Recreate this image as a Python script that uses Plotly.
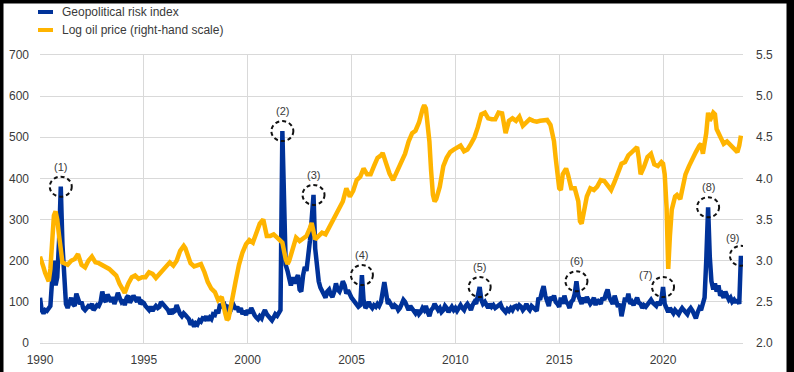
import plotly.graph_objects as go

# ---------------- data ----------------
gpr_t = [
 1990.00,1990.08,1990.17,1990.25,1990.33,1990.42,1990.50,1990.58,1990.67,1990.75,1990.83,1990.92,
 1991.00,1991.08,1991.17,1991.25,1991.33,1991.42,1991.50,1991.58,1991.67,1991.75,1991.83,1991.92,
 1992.00,1992.08,1992.17,1992.33,1992.42,1992.50,1992.58,1992.67,1992.75,1992.83,1992.92,
 1993.00,1993.08,1993.17,1993.25,1993.33,1993.42,1993.50,1993.58,1993.67,1993.75,1993.83,1993.92,
 1994.00,1994.08,1994.17,1994.25,1994.33,1994.42,1994.50,1994.58,1994.67,1994.75,1994.83,1994.92,
 1995.00,1995.08,1995.17,1995.25,1995.33,1995.42,1995.50,1995.58,1995.67,1995.75,1995.83,1995.92,
 1996.00,1996.08,1996.17,1996.25,1996.33,1996.42,1996.50,1996.58,1996.67,1996.75,1996.83,1996.92,
 1997.00,1997.08,1997.17,1997.25,1997.33,1997.42,1997.50,1997.58,1997.67,1997.75,1997.83,1997.92,
 1998.00,1998.08,1998.17,1998.25,1998.33,1998.42,1998.50,1998.58,1998.67,1998.75,1998.83,1998.92,
 1999.00,1999.08,1999.17,1999.25,1999.33,1999.42,1999.50,1999.58,1999.67,1999.75,1999.83,1999.92,
 2000.00,2000.08,2000.17,2000.25,2000.33,2000.42,2000.50,2000.58,2000.67,2000.75,2000.83,2000.92,
 2001.00,2001.08,2001.17,2001.25,2001.33,2001.42,2001.50,2001.58,2001.67,2001.75,2001.83,2001.92,
 2002.00,2002.08,2002.17,2002.25,2002.33,2002.42,2002.50,2002.58,2002.67,2002.75,2002.83,2002.92,
 2003.00,2003.08,2003.17,2003.25,2003.33,2003.42,2003.50,2003.58,2003.67,2003.75,2003.83,2003.92,
 2004.00,2004.08,2004.17,2004.25,2004.33,2004.42,2004.50,2004.58,2004.67,2004.75,2004.83,2004.92,
 2005.00,2005.08,2005.17,2005.25,2005.33,2005.42,2005.50,2005.58,2005.67,2005.75,2005.83,2005.92,
 2006.00,2006.08,2006.17,2006.25,2006.33,2006.42,2006.50,2006.58,2006.67,2006.75,2006.83,2006.92,
 2007.00,2007.08,2007.17,2007.25,2007.33,2007.42,2007.50,2007.58,2007.67,2007.75,2007.83,2007.92,
 2008.00,2008.08,2008.17,2008.25,2008.33,2008.42,2008.50,2008.58,2008.67,2008.75,2008.83,2008.92,
 2009.00,2009.08,2009.17,2009.25,2009.33,2009.42,2009.50,2009.58,2009.67,2009.75,2009.83,2009.92,
 2010.00,2010.08,2010.17,2010.25,2010.33,2010.42,2010.50,2010.58,2010.67,2010.75,2010.83,2010.92,
 2011.00,2011.08,2011.17,2011.25,2011.33,2011.42,2011.50,2011.58,2011.67,2011.75,2011.83,2011.92,
 2012.00,2012.08,2012.17,2012.25,2012.33,2012.42,2012.50,2012.58,2012.67,2012.75,2012.83,2012.92,
 2013.00,2013.08,2013.17,2013.25,2013.33,2013.42,2013.50,2013.58,2013.67,2013.75,2013.83,2013.92,
 2014.00,2014.08,2014.17,2014.25,2014.33,2014.42,2014.50,2014.58,2014.67,2014.75,2014.83,2014.92,
 2015.00,2015.08,2015.17,2015.25,2015.33,2015.42,2015.50,2015.58,2015.67,2015.75,2015.83,2015.92,
 2016.00,2016.08,2016.17,2016.25,2016.33,2016.42,2016.50,2016.58,2016.67,2016.75,2016.83,2016.92,
 2017.00,2017.08,2017.17,2017.25,2017.33,2017.42,2017.50,2017.58,2017.67,2017.75,2017.83,2017.92,
 2018.00,2018.08,2018.17,2018.25,2018.33,2018.42,2018.50,2018.58,2018.67,2018.75,2018.83,2018.92,
 2019.00,2019.08,2019.17,2019.25,2019.33,2019.42,2019.50,2019.58,2019.67,2019.75,2019.83,2019.92,
 2020.00,2020.08,2020.17,2020.25,2020.33,2020.42,2020.50,2020.58,2020.67,2020.75,2020.83,2020.92,
 2021.00,2021.08,2021.17,2021.25,2021.33,2021.42,2021.50,2021.58,2021.67,2021.75,2021.83,2021.92,
 2022.00,2022.08,2022.17,2022.25,2022.33,2022.42,2022.50,2022.58,2022.67,2022.75,2022.83,2022.92,
 2023.00,2023.08,2023.17,2023.25,2023.33,2023.42,2023.50,2023.58,2023.67,2023.75,
]
gpr_v = [
 110,80,72,80,78,85,90,150,200,140,160,250,
 380,240,150,95,85,100,110,95,90,120,105,95,
 100,85,80,90,88,95,80,85,92,90,100,
 125,105,100,118,110,100,112,95,108,122,110,100,
 105,92,110,115,98,105,115,108,100,112,95,100,
 97,90,85,80,88,78,85,90,85,88,100,95,
 90,85,80,70,82,75,78,92,75,70,65,72,
 68,62,58,45,50,40,48,45,55,52,60,58,
 65,55,62,58,70,68,80,72,95,85,100,88,
 92,70,78,100,90,82,88,75,85,70,78,68,
 80,72,85,75,68,62,58,65,60,72,80,70,
 65,58,55,62,70,66,75,80,515,280,190,175,
 150,140,160,145,155,165,130,125,165,185,175,210,
 250,300,360,230,175,150,135,125,115,110,125,130,
 118,112,125,145,130,125,135,150,140,120,128,115,
 110,105,100,95,88,92,165,105,85,90,100,90,
 85,92,88,95,90,100,120,148,120,95,100,90,
 85,92,88,80,85,95,105,100,88,80,90,85,
 78,72,80,70,75,85,80,90,75,65,80,85,
 95,88,80,85,75,80,90,85,75,82,88,80,
 85,78,88,92,85,80,90,95,88,80,92,100,
 95,110,136,105,95,100,92,85,95,88,92,85,
 88,92,95,85,80,75,82,78,85,80,88,90,
 85,92,88,80,85,95,85,80,90,85,82,78,
 110,105,125,138,115,100,90,112,105,115,100,95,
 88,110,95,115,100,95,85,100,105,120,150,115,
 100,95,110,98,112,105,95,100,110,92,105,100,
 95,110,105,120,130,110,100,95,115,100,88,95,
 65,85,110,100,120,95,100,92,105,110,98,95,
 85,92,88,95,100,105,98,95,90,100,92,105,
 136,95,80,75,85,78,72,80,75,70,78,85,
 80,75,70,80,85,78,70,60,75,85,80,95,
 110,200,330,210,150,130,145,125,140,115,120,110,
 125,115,105,110,100,105,98,105,95,212,
]

oil_t = [
 1990.00,1990.08,1990.17,1990.25,1990.33,1990.42,1990.50,1990.58,1990.67,1990.75,1990.83,1990.92,
 1991.00,1991.08,1991.17,1991.33,1991.50,1991.67,1991.83,1992.00,1992.17,1992.33,1992.50,1992.67,
 1992.83,1993.00,1993.17,1993.33,1993.50,1993.67,1993.83,1994.00,1994.08,1994.25,1994.42,1994.58,
 1994.75,1994.92,1995.08,1995.25,1995.42,1995.58,1995.75,1995.92,1996.08,1996.25,1996.42,1996.58,
 1996.75,1996.92,1997.00,1997.08,1997.25,1997.42,1997.58,1997.75,1997.92,1998.08,1998.25,1998.42,
 1998.58,1998.75,1998.92,1999.00,1999.08,1999.25,1999.42,1999.58,1999.75,1999.92,2000.08,2000.25,
 2000.42,2000.58,2000.75,2000.83,2000.92,2001.08,2001.25,2001.42,2001.58,2001.67,2001.83,2001.92,
 2002.00,2002.17,2002.33,2002.50,2002.67,2002.83,2003.00,2003.08,2003.25,2003.42,2003.58,2003.75,
 2003.92,2004.08,2004.25,2004.42,2004.58,2004.75,2004.92,2005.08,2005.25,2005.42,2005.58,2005.75,
 2005.92,2006.08,2006.25,2006.42,2006.50,2006.67,2006.83,2007.00,2007.08,2007.25,2007.42,2007.58,
 2007.75,2007.92,2008.08,2008.25,2008.42,2008.50,2008.58,2008.75,2008.83,2008.92,2009.00,2009.08,
 2009.25,2009.42,2009.58,2009.75,2009.92,2010.08,2010.25,2010.42,2010.58,2010.75,2010.92,2011.08,
 2011.25,2011.42,2011.58,2011.75,2011.92,2012.08,2012.25,2012.42,2012.58,2012.75,2012.92,2013.08,
 2013.25,2013.42,2013.58,2013.75,2013.92,2014.08,2014.25,2014.42,2014.58,2014.75,2014.83,2014.92,
 2015.00,2015.08,2015.17,2015.33,2015.42,2015.58,2015.75,2015.92,2016.00,2016.08,2016.17,2016.33,
 2016.50,2016.67,2016.83,2017.00,2017.17,2017.33,2017.50,2017.67,2017.83,2018.00,2018.17,2018.33,
 2018.50,2018.75,2018.83,2018.92,2019.08,2019.25,2019.42,2019.58,2019.75,2019.92,2020.00,2020.08,
 2020.17,2020.25,2020.33,2020.42,2020.58,2020.67,2020.83,2020.92,2021.08,2021.25,2021.42,2021.58,
 2021.75,2021.83,2021.92,2022.00,2022.08,2022.17,2022.25,2022.42,2022.50,2022.58,2022.75,2022.92,
 2023.08,2023.25,2023.42,2023.58,2023.67,2023.75,
]
oil_v = [
 3.05,3.00,2.92,2.85,2.80,2.75,2.90,3.25,3.55,3.60,3.50,3.30,
 3.10,2.98,2.97,2.95,3.00,3.02,3.08,2.95,2.92,3.00,3.05,2.98,
 2.97,2.95,2.92,2.90,2.86,2.82,2.72,2.63,2.61,2.72,2.80,2.82,
 2.78,2.80,2.80,2.86,2.84,2.79,2.84,2.88,2.92,2.98,2.94,3.00,
 3.12,3.18,3.15,3.08,2.97,2.93,2.94,2.96,2.86,2.74,2.66,2.62,
 2.52,2.56,2.36,2.28,2.30,2.55,2.75,2.95,3.10,3.20,3.25,3.22,
 3.35,3.45,3.50,3.40,3.30,3.30,3.32,3.28,3.25,3.22,3.02,2.96,
 3.00,3.17,3.28,3.24,3.28,3.30,3.40,3.46,3.26,3.30,3.34,3.32,
 3.40,3.47,3.55,3.62,3.72,3.88,3.78,3.85,3.98,4.02,4.12,4.05,
 4.05,4.15,4.25,4.28,4.31,4.18,4.06,3.98,4.02,4.12,4.20,4.30,
 4.45,4.55,4.58,4.68,4.84,4.89,4.85,4.45,4.10,3.80,3.72,3.75,
 3.90,4.15,4.25,4.32,4.35,4.38,4.40,4.33,4.35,4.42,4.50,4.62,
 4.78,4.80,4.73,4.72,4.72,4.80,4.79,4.55,4.70,4.73,4.70,4.75,
 4.64,4.68,4.72,4.70,4.69,4.70,4.70,4.71,4.65,4.45,4.25,4.05,
 3.88,3.86,4.05,4.12,4.05,3.88,3.88,3.72,3.48,3.45,3.58,3.78,
 3.88,3.86,3.90,3.98,3.97,3.92,3.86,3.96,4.08,4.18,4.20,4.28,
 4.32,4.38,4.25,4.05,4.14,4.26,4.30,4.17,4.15,4.20,4.18,4.05,
 3.65,2.90,3.30,3.62,3.78,3.80,3.75,3.88,4.05,4.15,4.25,4.32,
 4.40,4.42,4.30,4.42,4.55,4.80,4.70,4.80,4.78,4.60,4.50,4.42,
 4.45,4.40,4.36,4.32,4.40,4.52,
]

year_ticks = [1990, 1995, 2000, 2005, 2010, 2015, 2020]
year_labels = ["1990", "1995", "2000", "2005", "2010", "2015", "2020"]

series_names = ["Geopolitical risk index", "Log oil price (right-hand scale)"]

event_labels = ["(1)", "(2)", "(3)", "(4)", "(5)", "(6)", "(7)", "(8)", "(9)"]
event_dates = [1991.00, 2001.67, 2003.17, 2005.50, 2011.17, 2015.83, 2020.00, 2022.17, 2023.75]

BLUE = "#003299"
YELLOW = "#FFB400"
TXT = "#3a3a3a"
GRID = "#d9d9d9"

# plot-area geometry in pixels (used to place the hand-built legend)
W, H = 794, 372
ML, MR, MT, MB = 40, 51, 55, 29
PW, PH = W - ML - MR, H - MT - MB


def px(xp):
    return (xp - ML) / PW


def py(yp):
    return (H - MB - yp) / PH


fig = go.Figure()
fig.add_trace(go.Scatter(x=gpr_t, y=gpr_v, mode="lines", name=series_names[0],
                         line=dict(color=BLUE, width=4.5), yaxis="y"))
fig.add_trace(go.Scatter(x=oil_t, y=oil_v, mode="lines", name=series_names[1],
                         line=dict(color=YELLOW, width=4.5), yaxis="y2"))

# legend (drawn by hand so that it does not push the plot margins)
for name, col, yrow in zip(series_names, [BLUE, YELLOW], [12, 30]):
    fig.add_shape(type="line", xref="paper", yref="paper", x0=px(38), x1=px(53),
                  y0=py(yrow), y1=py(yrow), line=dict(color=col, width=4))
    fig.add_annotation(xref="paper", yref="paper", x=px(60), y=py(yrow), text=name,
                       showarrow=False, xanchor="left", yanchor="middle",
                       font=dict(size=12, color=TXT))

# event circles + labels
label_shift = {"(7)": (-18, 12), "(9)": (-8, 18)}
for lab, d in zip(event_labels, event_dates):
    i = gpr_t.index(d)
    yv = gpr_v[i]
    fig.add_shape(type="circle", xref="x", yref="y", xsizemode="pixel", ysizemode="pixel",
                  xanchor=d, yanchor=yv, x0=-11, x1=11, y0=-10, y1=10,
                  line=dict(color="#111111", width=2, dash="4px,3px"), layer="above")
    dx, dy = label_shift.get(lab, (0, 20))
    fig.add_annotation(x=d, y=yv, xref="x", yref="y", text=lab, showarrow=False,
                       xshift=dx, yshift=dy, font=dict(size=11, color=TXT))

# black frame strips visible in the reference screenshot
for x0, x1, y0, y1 in [(787, 794, 0, 372), (0, 794, 0, 3), (0, 3, 0, 372)]:
    fig.add_shape(type="rect", xref="paper", yref="paper",
                  x0=px(x0), x1=px(x1), y0=py(y1), y1=py(y0),
                  fillcolor="black", line=dict(color="black", width=1), layer="above")

fig.update_layout(
    width=W, height=H,
    margin=dict(l=ML, r=MR, t=MT, b=MB, autoexpand=False),
    paper_bgcolor="white", plot_bgcolor="white",
    font=dict(family="Liberation Sans, Arial, sans-serif", size=12, color=TXT),
    showlegend=False,
    xaxis=dict(range=[1990, 2023.85], tickvals=year_ticks, ticktext=year_labels,
               showgrid=True, gridcolor=GRID, gridwidth=1, zeroline=False,
               showline=True, linecolor=GRID, mirror=True, ticks="", ticklabelstandoff=6),
    yaxis=dict(range=[0, 700], dtick=100, showgrid=True, gridcolor=GRID, gridwidth=1,
               zeroline=False, showline=False, ticks="", ticklabelstandoff=10),
    yaxis2=dict(range=[2.0, 5.5], dtick=0.5, tickformat=".1f", overlaying="y", side="right",
                showgrid=False, zeroline=False, showline=False, ticks="", ticklabelstandoff=12),
)

fig.write_html("out.html", config={"displayModeBar": False},
               post_script="document.body.style.margin='0px';document.body.style.overflow='hidden';")
